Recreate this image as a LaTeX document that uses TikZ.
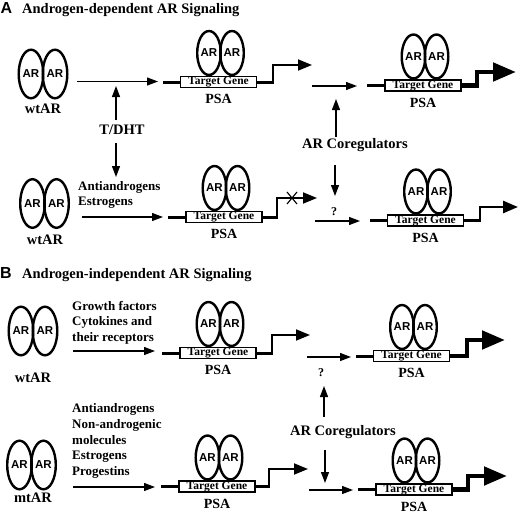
\documentclass[tikz,border=0pt]{standalone}
\usepackage{fontspec}
\setmainfont{Liberation Serif}
\setsansfont{Liberation Sans}
\usetikzlibrary{arrows.meta,shapes.geometric,calc}
\newcommand{\genegrp}[5]{% name, x, y, step x, tip
  \node[genebox] (#1) at (#2,#3) {Target Gene};
  \node[arov, anchor=south] (#1a) at ([xshift=-9.5pt,yshift=-0.3pt]#1.north) {AR};
  \node[arov, anchor=south] (#1b) at ([xshift=13.5pt,yshift=-0.3pt]#1.north) {AR};
  \node[psa] (#1p) at ([yshift=-17pt]#1.center) {PSA};
  \coordinate (#1w) at ([xshift=-17pt]#1.west);
  \coordinate (#1s) at (#4,#3);
  \coordinate (#1t) at #5;
  \draw[geneline] (#1w) -- (#1.west);
}
\begin{document}
\begin{tikzpicture}[x=1pt,y=-1pt,
  lbl/.style={font=\fontsize{14.5}{16}\selectfont\bfseries, inner sep=0},
  psa/.style={font=\fontsize{14}{16}\selectfont\bfseries, inner sep=0},
  panel/.style={font=\fontsize{16}{18}\selectfont\sffamily\bfseries, inner sep=0, anchor=base west},
  ttl/.style={font=\fontsize{14.5}{16}\selectfont\bfseries, inner sep=0, anchor=base west},
  side/.style={font=\fontsize{13}{15.5}\selectfont\bfseries, align=left, inner sep=0, anchor=west},
  qm/.style={font=\fontsize{12}{14}\selectfont\bfseries, inner sep=0},
  arov/.style={ellipse, draw, line width=2.4pt, inner sep=0, minimum width=23.6pt, minimum height=44pt, font=\fontsize{11.5}{12}\selectfont\sffamily\bfseries},
  bigov/.style={arov, minimum width=24.6pt, minimum height=48.6pt},
  genebox/.style={draw, line width=1.2pt, minimum width=76pt, minimum height=11pt, inner sep=0, font=\fontsize{11.5}{11.5}\selectfont\bfseries},
  geneline/.style={line width=3pt},
  thinarr/.style={line width=1.3pt, -{Triangle[length=11pt,width=8pt]}},
  bentarr/.style={line width=1.8pt, -{Triangle[length=14pt,width=11pt]}},
  medarr/.style={line width=2.7pt, -{Triangle[length=15pt,width=12pt]}},
  bigarr/.style={line width=4.8pt, -{Triangle[length=23pt,width=18pt]}},
]
\useasboundingbox (0,0) rectangle (520,514);

% ---------- Panel A ----------
\node[panel] (pA) at (0.5,13.5) {A};
\node[ttl] (tA) at (22,13.5) {Androgen-dependent AR Signaling};

% top-left wtAR
\node[bigov] (w1a) at (31,74) {AR};
\node[bigov] (w1b) at (55,74) {AR};
\node[lbl] (w1l) at (43,109) {wtAR};

% bottom-left wtAR
\node[bigov] (w2a) at (32.5,203.5) {AR};
\node[bigov] (w2b) at (56.5,203.5) {AR};
\node[lbl] (w2l) at (45,240) {wtAR};

% genes A
\genegrp{gA1}{218.5}{82}{273}{(312,65)}
\genegrp{gA2}{423}{85.5}{477}{(516,72)}
\genegrp{gA3}{224}{217}{277}{(317,198)}
\genegrp{gA4}{425.5}{220.5}{480}{(518,207)}

\draw[geneline] (gA1.east) -- ([xshift=0.9pt]gA1s);
\draw[bentarr] (gA1s) |- (gA1t);
\draw[bigarr] (gA2.east) -- (gA2s) |- (gA2t);
\draw[geneline] (gA3.east) -- ([xshift=0.9pt]gA3s);
\draw[bentarr] (gA3s) |- (gA3t);
\draw[medarr] (gA4.east) -- (gA4s) |- (gA4t);

% X mark
\coordinate (xm) at (292,198);
\draw[line width=1.1pt] ($(xm)+(-5,-6)$) -- ($(xm)+(5,6)$);
\draw[line width=1.1pt] ($(xm)+(-5,6)$) -- ($(xm)+(5,-6)$);

% T/DHT
\node[lbl] (tdht) at (122,129.5) {T/DHT};
\coordinate (tu0) at (116,120);
\coordinate (tu1) at (116,86);
\coordinate (td0) at (116,143);
\coordinate (td1) at (116,177);
\draw[thinarr] (tu0) -- (tu1);
\draw[thinarr] (td0) -- (td1);

\coordinate (a1s) at (77,81.5);
\coordinate (a1e) at (158,81.5);
\draw[thinarr] (a1s) -- (a1e);

\node[side, font=\fontsize{13}{15}\selectfont\bfseries] (anti1) at (78,194.5) {Antiandrogens\\Estrogens};
\coordinate (a2s) at (82,217);
\coordinate (a2e) at (163,217);
\draw[thinarr] (a2s) -- (a2e);

% coregulators A
\node[lbl] (arcA) at (355,145) {AR Coregulators};
\coordinate (s1s) at (312,86);
\coordinate (s1e) at (357,86);
\draw[thinarr] (s1s) -- (s1e);
\coordinate (u1s) at (336,137);
\coordinate (u1e) at (336,99);
\draw[thinarr] (u1s) -- (u1e);
\coordinate (d1s) at (335,165);
\coordinate (d1e) at (335,196);
\draw[thinarr] (d1s) -- (d1e);
\node[qm] (q1) at (334,212) {?};
\coordinate (s2s) at (315,221);
\coordinate (s2e) at (360,221);
\draw[thinarr] (s2s) -- (s2e);

% ---------- Panel B ----------
\node[panel] (pB) at (0,278) {B};
\node[ttl] (tB) at (22,278) {Androgen-independent AR Signaling};

\node[bigov] (w3a) at (21,331) {AR};
\node[bigov] (w3b) at (45,331) {AR};
\node[lbl] (w3l) at (33,378) {wtAR};

\node[bigov] (w4a) at (19.5,465) {AR};
\node[bigov] (w4b) at (43.5,465) {AR};
\node[lbl] (w4l) at (33,498) {mtAR};

\genegrp{gB1}{218}{353}{272}{(310,335)}
\genegrp{gB2}{411.5}{356}{467}{(505,340)}
\genegrp{gB3}{217}{486.5}{269}{(308,469)}
\genegrp{gB4}{414}{489.5}{468}{(507,476)}

\draw[geneline] (gB1.east) -- ([xshift=0.9pt]gB1s);
\draw[bentarr] (gB1s) |- (gB1t);
\draw[bigarr] (gB2.east) -- (gB2s) |- (gB2t);
\draw[geneline] (gB3.east) -- ([xshift=0.9pt]gB3s);
\draw[bentarr] (gB3s) |- (gB3t);
\draw[bigarr] (gB4.east) -- (gB4s) |- (gB4t);

\node[side] (grow) at (72,322.7) {Growth factors\\Cytokines and\\their receptors};
\coordinate (b1s) at (73,351);
\coordinate (b1e) at (155,351);
\draw[thinarr] (b1s) -- (b1e);

\node[side, font=\fontsize{13}{15.8}\selectfont\bfseries] (anti2) at (72,441) {Antiandrogens\\Non-androgenic\\molecules\\Estrogens\\Progestins};
\coordinate (b2s) at (73,487);
\coordinate (b2e) at (155,487);
\draw[thinarr] (b2s) -- (b2e);

\coordinate (s3s) at (307,357);
\coordinate (s3e) at (351,357);
\draw[thinarr] (s3s) -- (s3e);
\node[qm] (q2) at (321,373) {?};
\coordinate (u2s) at (324,417);
\coordinate (u2e) at (324,386);
\draw[thinarr] (u2s) -- (u2e);
\node[lbl] (arcB) at (343,432) {AR Coregulators};
\coordinate (d2s) at (325,450);
\coordinate (d2e) at (325,483);
\draw[thinarr] (d2s) -- (d2e);
\coordinate (s4s) at (309,490);
\coordinate (s4e) at (353,490);
\draw[thinarr] (s4s) -- (s4e);
\end{tikzpicture}
\end{document}
